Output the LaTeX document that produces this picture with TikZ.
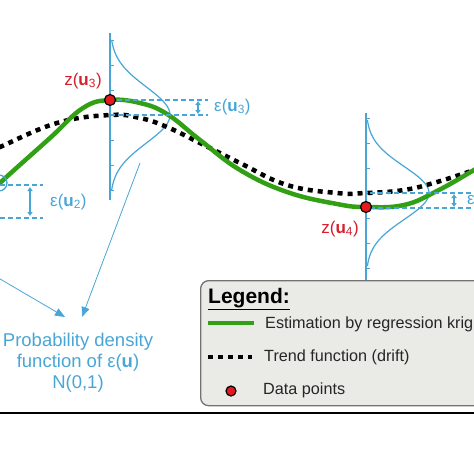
\documentclass[tikz,border=0pt]{standalone}
\usepackage{fontspec}
\setmainfont{Liberation Sans}
\usetikzlibrary{arrows.meta}
\definecolor{pdfblue}{RGB}{72,166,214}
\definecolor{krigreen}{RGB}{50,160,20}
\definecolor{ptred}{RGB}{230,25,30}
\definecolor{zred}{RGB}{215,30,45}
\definecolor{legfill}{RGB}{234,234,230}
\begin{document}
\begin{tikzpicture}[
    x=1pt, y=-1pt,
    every node/.style={inner sep=0pt, font=\fontsize{17}{20}\selectfont},
    axis/.style={draw=pdfblue, line width=1.3pt},
    bell/.style={draw=pdfblue, line width=1.2pt},
    resid/.style={draw=pdfblue, line width=1.5pt, dash pattern=on 5pt off 3pt},
    gap/.style={draw=pdfblue, line width=1.5pt, {Latex[length=4pt,width=6pt]}-{Latex[length=4pt,width=6pt]}},
    krig/.style={draw=krigreen, line width=4.5pt},
    drift/.style={draw=black, line width=4.5pt, dash pattern=on 5pt off 5pt},
    datapt/.style={circle, draw=black, fill=ptred, line width=1.2pt, minimum size=11pt},
    zlabel/.style={text=zred},
    elabel/.style={text=pdfblue, anchor=west},
    pointer/.style={draw=pdfblue, line width=0.8pt, -{Triangle[length=10pt,width=8pt]}},
    legtext/.style={anchor=base west, text=black!85, font=\fontsize{16.2}{19}\selectfont}
]
\useasboundingbox (0,0) rectangle (474,474);
\clip (0,0) rectangle (474,474);

% densites autour de u3 et u4
\draw[axis] (110,33) -- (110,200);
\foreach \t in {40,65,...,190}
    \draw[axis, line width=0.8pt] (110,\t) -- (114,\t);
\draw[bell] plot[domain=40:190, samples=70, smooth]
    ({110+60*exp(-((\x-115)^2)/1568)}, \x);
\draw[axis] (366,113) -- (366,280);
\foreach \t in {118,143,...,268}
    \draw[axis, line width=0.8pt] (366,\t) -- (370,\t);
\draw[bell] plot[domain=120:266, samples=70, smooth]
    ({366+63*exp(-((\x-193)^2)/1400)}, \x);

% tendance et estimation
\draw[drift] plot[smooth, tension=0.7] coordinates {(-10,151) (0,147) (57,123) (110,115) (140,118) (167,127) (200,143) (240,163) (287,185) (337,193) (366,193) (404,190) (437,182) (474,170) (490,164)};
\draw[krig] plot[smooth, tension=0.7] coordinates {(-10,195) (0,183) (50,138) (83,108) (110,100) (140,103) (167,114) (200,140) (240,170) (287,192) (337,204) (366,207) (404,205) (437,191) (474,170) (490,160)};

% residus
\draw[resid] (0,185) -- (43,185);
\draw[resid] (0,218) -- (43,218);
\draw[gap] (30,187) -- (30,216);
\node[elabel] (e2) at (50,202) {ε(\textbf{u}\textsubscript{2})};
\draw[resid] (117,100) -- (208,100);
\draw[resid] (110,115) -- (208,115);
\draw[gap] (198,101) -- (198,114);
\node[elabel] (e3) at (214,107) {ε(\textbf{u}\textsubscript{3})};
\draw[resid] (370,193) -- (474,193);
\draw[resid] (370,208) -- (474,208);
\draw[gap] (454,194) -- (454,207);
\node[elabel] (e4) at (467,200) {ε(\textbf{u}\textsubscript{4})};

% points de donnees
\node[circle, draw=pdfblue, line width=1.3pt, minimum size=16pt] (z2) at (-1,183) {};
\node[datapt] (z3) at (110,100) {};
\node[datapt] (z4) at (366,207) {};
\node[zlabel] (lz3) at (83,81) {z(\textbf{u}\textsubscript{3})};
\node[zlabel] (lz4) at (340,229) {z(\textbf{u}\textsubscript{4})};

% densite de probabilite
\node[text=pdfblue, align=center, font=\fontsize{18.5}{21}\selectfont] (pdftext) at (78,363)
    {Probability density\\function of ε(\textbf{u})\\N(0,1)};
\coordinate (p1) at (-5,276);
\coordinate (t1) at (65,317);
\coordinate (p2) at (140,163);
\coordinate (t2) at (82,317);
\draw[pointer] (p1) -- (t1);
\draw[pointer] (p2) -- (t2);

% legende
\node[draw=black!55, fill=legfill, line width=1.3pt, rounded corners=8pt,
      minimum width=290pt, minimum height=125pt, anchor=north west] (legend) at (200,280) {};
\node[anchor=base west, font=\bfseries\fontsize{21}{24}\selectfont] (legtitle) at (208,303) {\underline{Legend:}};
\coordinate (g1) at (208,323);
\coordinate (g2) at (254,323);
\draw[krig, line width=4pt] (g1) -- (g2);
\node[legtext] (l1) at (265,328) {Estimation by regression kriging};
\coordinate (d1) at (208,357);
\coordinate (d2) at (252,357);
\draw[drift] (d1) -- (d2);
\node[legtext] (l2) at (264,361) {Trend function (drift)};
\node[datapt, minimum size=10pt] (legpt) at (231,391) {};
\node[legtext] (l3) at (263,394) {Data points};

\coordinate (b1) at (0,413);
\coordinate (b2) at (474,413);
\draw[line width=2pt] (b1) -- (b2);
\end{tikzpicture}
\end{document}
